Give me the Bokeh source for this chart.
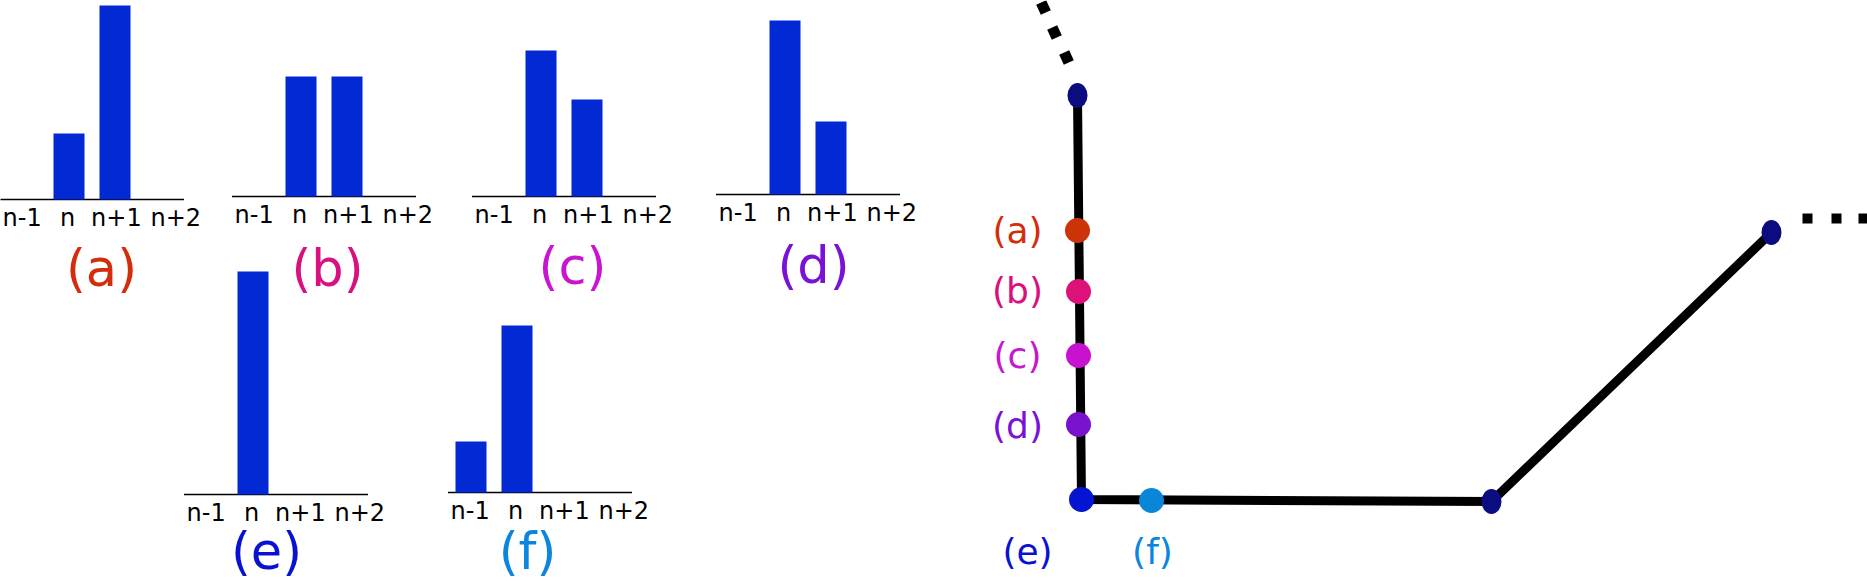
import math
from bokeh.plotting import figure
from bokeh.models import Range1d
from bokeh.core.properties import value
from bokeh.embed import file_html
from bokeh.resources import INLINE

# ---------------- data ----------------
categories = ["n-1", "n", "n+1", "n+2"]
panel_names = ["(a)", "(b)", "(c)", "(d)", "(e)", "(f)"]
values_a = [0, 66, 194, 0]
values_b = [0, 120, 120, 0]
values_c = [0, 146, 97, 0]
values_d = [0, 174, 73, 0]
values_e = [0, 223, 0, 0]
values_f = [51, 167, 0, 0]
panel_values = [values_a, values_b, values_c, values_d, values_e, values_f]

# schematic path (reference pixel positions, y measured downward)
path_x = [1077, 1081, 1491, 1771]
path_y = [95, 499, 501, 232]
marked_x = [1077, 1078, 1078, 1078, 1081, 1151]
marked_y = [230, 291, 355, 424, 499, 500]
cont_up_x = [1043, 1054, 1066]
cont_up_y = [7, 32, 57]
cont_right_x = [1807, 1836, 1863]
cont_right_y = [218, 218, 218]

# ---------------- layout / style ----------------
W, H = 1867, 581
FONT = value("DejaVu Sans")
BAR_COLOR = "#0229d4"
label_colors = ["#d42d0c", "#d8117f", "#c816d0", "#7a12d6", "#0a12d2", "#0c86dc"]
node_colors = ["#cc3308", "#dc1179", "#c812d0", "#7812cc", "#0414d0", "#0a86d8"]
NAVY = "#0a0c80"

panel_x0 = [0, 232, 472, 716, 184, 448]
panel_axis_y = [199, 196, 196, 194, 494, 492]
label_x = [101, 327, 572, 813, 266, 527]
label_y = [268, 268, 266, 265, 551, 551]
SLOT_FIRST, SLOT_PITCH, BAR_W = 22.5, 46.0, 31.0
tick_shift = [-0.02, -0.03, 0.03, 0.32]

side_label_x = [1017, 1017, 1017, 1017, 1027, 1152]
side_label_y = [230, 290, 355, 425, 551, 551]


def up(y):
    return H - y


p = figure(width=W, height=H,
           x_range=Range1d(0, W), y_range=Range1d(0, H),
           output_backend="svg", toolbar_location=None,
           x_axis_location=None, y_axis_location=None,
           min_border=0, min_border_left=0, min_border_right=0,
           min_border_top=0, min_border_bottom=0)
p.grid.visible = False
p.outline_line_color = None
p.background_fill_color = "white"

# ---------------- bar panels ----------------
idx = list(range(len(categories)))
for k, vals in enumerate(panel_values):
    x0 = panel_x0[k] + SLOT_FIRST
    ay = up(panel_axis_y[k])
    sub = p.subplot(x_source=Range1d(0, 1), y_source=Range1d(0, 1),
                    x_target=Range1d(x0, x0 + SLOT_PITCH),
                    y_target=Range1d(ay, ay + 1))
    sub.segment(x0=[-0.5], y0=[0], x1=[3.5], y1=[0],
                line_color="black", line_width=1.3)
    sub.vbar(x=idx, top=vals, bottom=0, width=BAR_W / SLOT_PITCH,
             fill_color=BAR_COLOR, line_color=None)
    sub.text(x=[i + s for i, s in zip(idx, tick_shift)], y=[-18] * 4,
             text=categories, text_font=FONT, text_font_size="24px",
             text_align="center", text_baseline="middle", text_color="black")

p.text(x=label_x, y=[up(v) for v in label_y], text=panel_names,
       text_color=label_colors, text_font=FONT, text_font_size="51px",
       text_align="center", text_baseline="middle")

# ---------------- schematic ----------------
p.line(x=path_x, y=[up(v) for v in path_y], line_color="black",
       line_width=9, line_join="miter")
ang = math.atan2(cont_up_y[2] - cont_up_y[0], cont_up_x[0] - cont_up_x[2])
p.scatter(x=cont_up_x, y=[up(v) for v in cont_up_y], marker="square",
          size=11, angle=ang, fill_color="black", line_color=None)
p.scatter(x=cont_right_x, y=[up(v) for v in cont_right_y], marker="square",
          size=10, fill_color="black", line_color=None)
nav_x = [path_x[0], path_x[2], path_x[3]]
nav_y = [up(path_y[0]), up(path_y[2]), up(path_y[3])]
p.ellipse(x=nav_x, y=nav_y, width=20, height=25,
          fill_color=NAVY, line_color=None)
p.scatter(x=marked_x, y=[up(v) for v in marked_y], marker="circle", size=25,
          fill_color=node_colors, line_color=None)
p.text(x=side_label_x, y=[up(v) for v in side_label_y], text=panel_names,
       text_color=label_colors, text_font=FONT, text_font_size="36px",
       text_align="center", text_baseline="middle")

open("out.html", "w").write(file_html(p, INLINE))
